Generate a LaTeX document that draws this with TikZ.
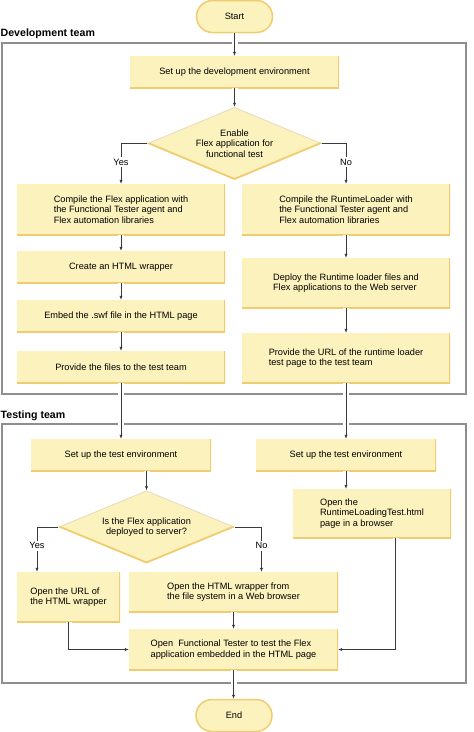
\documentclass[tikz,border=0pt]{standalone}
\usepackage{fontspec}
\setmainfont{Liberation Sans}
\usetikzlibrary{shapes.geometric,arrows.meta,calc}
\definecolor{boxfill}{HTML}{FCF2BD}
\definecolor{boxedge}{HTML}{EFCC6F}
\definecolor{diamtop}{HTML}{E6D9C2}
\definecolor{framecol}{HTML}{8E8E8E}
\definecolor{linecol}{HTML}{3A3A3A}
\begin{document}
\begin{tikzpicture}[x=1pt,y=-1pt,
  font=\fontsize{9.2}{10.3}\selectfont,
  stepbox/.style={rectangle, fill=boxfill, inner sep=0pt, align=left,
    path picture={\draw[boxedge, line width=3pt]
      (path picture bounding box.south west) -- (path picture bounding box.south east)
      -- (path picture bounding box.north east);}},
  decision/.style={diamond, fill=boxfill, shape aspect=2.4, inner sep=0pt, align=center,
    path picture={
      \draw[diamtop, line width=1.5pt]
        (path picture bounding box.west) -- (path picture bounding box.north)
        -- (path picture bounding box.east);
      \draw[boxedge, line width=3.5pt]
        (path picture bounding box.west) -- (path picture bounding box.south)
        -- (path picture bounding box.east);}},
  terminal/.style={rectangle, rounded corners=16pt, fill=boxfill, draw=boxedge,
    line width=1.5pt, minimum width=76pt, minimum height=32pt, inner sep=0pt},
  frame/.style={rectangle, draw=framecol, line width=1.2pt, inner sep=0pt},
  teamlab/.style={anchor=west, inner sep=0pt, font=\fontsize{10.6}{12}\selectfont\bfseries},
  conn/.style={draw=linecol, line width=0.6pt, -{Latex[length=4pt,width=3.2pt]},
    preaction={draw=white, line width=6pt, -}},
  lab/.style={fill=white, inner sep=1.5pt}
]
\useasboundingbox (0,0) rectangle (474,732);

% frames
\node[frame, minimum width=464pt, minimum height=351pt] (devframe) at (234,218.5) {};
\node[frame, minimum width=464pt, minimum height=259pt] (testframe) at (234,553.5) {};
\node[teamlab] (devlab) at (0.5,33.5) {Development team};
\node[teamlab] (testlab) at (0.5,415.5) {Testing team};

% terminals
\node[terminal] (start) at (234.5,16.5) {Start};
\node[terminal] (endn) at (234,715.5) {End};

% development team
\node[stepbox, minimum width=209pt, minimum height=32pt] (setup) at (234.5,72) {Set up the development environment};
\node[decision, minimum width=175pt, minimum height=73pt] (d1) at (234.5,143.5) {Enable\\Flex application for\\functional test};
\node[stepbox, minimum width=208pt, minimum height=51pt] (compL) at (121,209.5) {Compile the Flex application with\\the Functional Tester agent and\\Flex automation libraries};
\node[stepbox, minimum width=208pt, minimum height=51pt] (compR) at (346,209.5) {Compile the RuntimeLoader with\\the Functional Tester agent and\\Flex automation libraries};
\node[stepbox, minimum width=208pt, minimum height=32pt] (html) at (121,267) {Create an HTML wrapper};
\node[stepbox, minimum width=208pt, minimum height=32pt] (embed) at (121,316) {Embed the .swf file in the HTML page};
\node[stepbox, minimum width=208pt, minimum height=32pt] (provide) at (121,367) {Provide the files to the test team};
\node[stepbox, minimum width=208pt, minimum height=50pt] (deploy) at (346,283) {Deploy the Runtime loader files and\\Flex applications to the Web server};
\node[stepbox, minimum width=208pt, minimum height=50pt] (url) at (346,358) {Provide the URL of the runtime loader\\test page to the test team};

% testing team
\node[stepbox, minimum width=180pt, minimum height=32pt] (envL) at (121,455) {Set up the test environment};
\node[stepbox, minimum width=180pt, minimum height=32pt] (envR) at (346,455) {Set up the test environment};
\node[decision, minimum width=177pt, minimum height=73pt] (d2) at (146.5,527) {Is the Flex application\\deployed to server?};
\node[stepbox, minimum width=158pt, minimum height=49pt] (rt) at (372,513.5) {Open the\\RuntimeLoadingTest.html\\page in a browser};
\node[stepbox, minimum width=103pt, minimum height=50pt] (openurl) at (68.5,597) {Open the URL of\\the HTML wrapper};
\node[stepbox, minimum width=209pt, minimum height=40pt] (wrapper) at (233.5,592) {Open the HTML wrapper from\\the file system in a Web browser};
\node[stepbox, minimum width=209pt, minimum height=41pt] (func) at (233.5,649.5) {Open\ \ Functional Tester to test the Flex\\application embedded in the HTML page};

% connectors
\draw[conn] (start.south) -- (start.south |- setup.north);
\draw[conn] (setup.south) -- (setup.south |- d1.north);
\draw[conn] (d1.west) -| node[lab, pos=0.73] {Yes} (compL.north);
\draw[conn] (d1.east) -| node[lab, pos=0.73] {No} (compR.north);
\draw[conn] (compL.south) -- (html.north);
\draw[conn] (html.south) -- (embed.north);
\draw[conn] (embed.south) -- (provide.north);
\draw[conn] (provide.south) -- (envL.north);
\draw[conn] (compR.south) -- (deploy.north);
\draw[conn] (deploy.south) -- (url.north);
\draw[conn] (url.south) -- (envR.north);
\draw[conn] (d2.north |- envL.south) -- (d2.north);
\draw[conn] (envR.south) -- (envR.south |- rt.north);
\draw[conn] (d2.west) -| node[lab, pos=0.71] {Yes} ([xshift=-31.5pt]openurl.north);
\draw[conn] (d2.east) -| node[lab, pos=0.71] {No} ([xshift=28pt]wrapper.north);
\draw[conn] (openurl.south) |- (func.west);
\draw[conn] ([xshift=23.5pt]rt.south) |- (func.east);
\draw[conn] (wrapper.south) -- (func.north);
\draw[conn] (func.south) -- (func.south |- endn.north);
\end{tikzpicture}
\end{document}
